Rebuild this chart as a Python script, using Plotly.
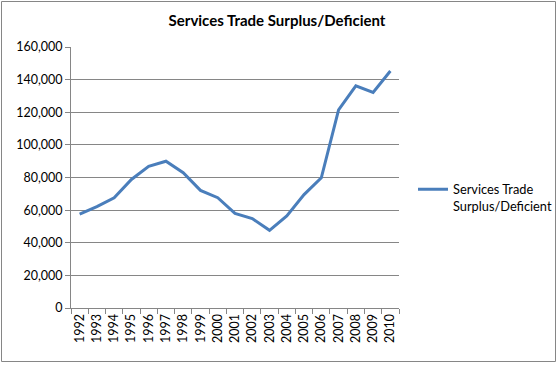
import plotly.graph_objects as go

years = [str(y) for y in range(1992, 2011)]
values = [57500, 62100, 67600, 78800, 86900, 90000, 82900, 72100, 67600, 58000,
          54800, 47600, 56400, 69500, 79800, 121500, 136200, 132100, 145300]
series_name = "Services Trade<br>Surplus/Deficient"
title_text = "Services Trade Surplus/Deficient"

W, H = 557, 365
L, R, T, B = 71, 158, 47, 57
pw, ph = W - L - R, H - T - B

fig = go.Figure()
fig.add_trace(go.Scatter(x=years, y=values, mode="lines", name=series_name,
                         line=dict(color="#4A7EBB", width=3)))

font = "Lato, 'Open Sans', sans-serif"
fig.update_layout(
    width=W, height=H,
    margin=dict(l=L, r=R, t=T, b=B, autoexpand=False),
    paper_bgcolor="white", plot_bgcolor="white",
    font=dict(family=font, size=12.5, color="black"),
    title=dict(text="<b>" + title_text + "</b>", x=277 / W, xanchor="center",
               y=1 - 21 / H, yanchor="middle", font=dict(size=15, color="black")),
    showlegend=True,
    legend=dict(x=1 + 14 / pw, xanchor="left", y=1 - (198 - T) / ph, yanchor="middle",
                font=dict(size=12.8, color="black"), bgcolor="rgba(0,0,0,0)",
                itemwidth=30, tracegroupgap=0, valign="top"),
    xaxis=dict(type="category", showline=True, linecolor="#868686", linewidth=1,
               ticks="outside", tickson="boundaries", ticklen=5, tickcolor="#868686",
               tickangle=-90, showgrid=False, fixedrange=True, mirror=False,
               range=[-0.5, len(years) - 0.5]),
    yaxis=dict(range=[0, 160000], dtick=20000, tickformat=",", showline=True,
               linecolor="#868686", linewidth=1, ticks="outside", ticklen=5,
               tickcolor="#868686", showgrid=True, gridcolor="#868686", gridwidth=1,
               zeroline=False, fixedrange=True),
)

# outer chart frame
fig.add_shape(type="rect", xref="paper", yref="paper",
              x0=(1.5 - L) / pw, x1=(555.5 - L) / pw,
              y0=1 - (361.5 - T) / ph, y1=1 - (1.5 - T) / ph,
              line=dict(color="#868686", width=1), layer="above")

fig.write_html(
    "out.html",
    config={"displayModeBar": False, "responsive": False},
    post_script=("document.documentElement.style.margin='0';"
                 "document.body.style.margin='0';"
                 "document.body.style.overflow='hidden';"
                 "window.scrollTo(0,0);"),
)
